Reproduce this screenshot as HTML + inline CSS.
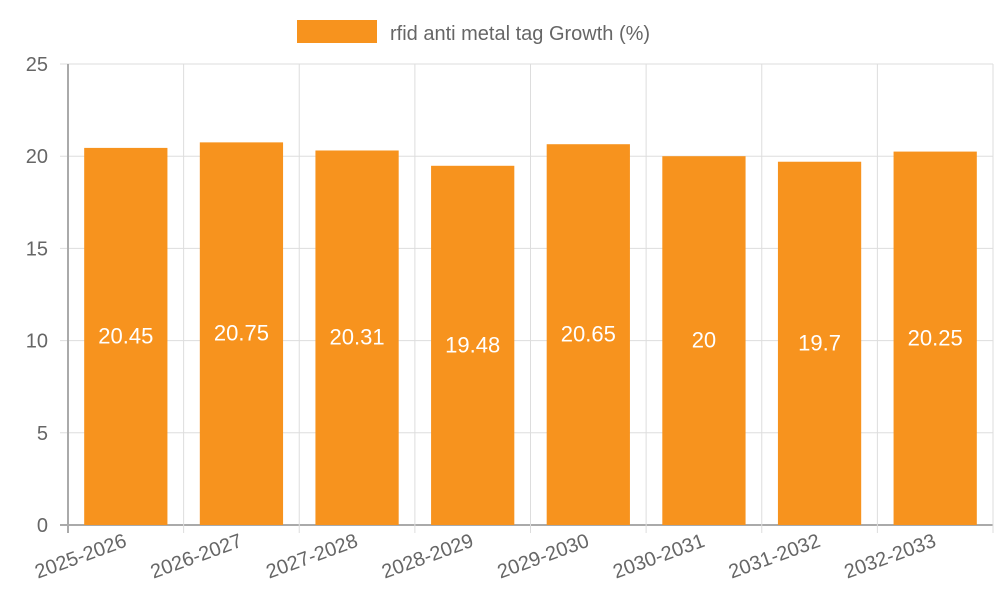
<!DOCTYPE html>
<html><head><meta charset="utf-8"><style>
html,body{margin:0;padding:0;background:#fff;}
svg{display:block;font-family:"Liberation Sans",sans-serif;}
</style></head><body>
<svg id="chart" width="1000" height="600">
<g>
<rect x="297" y="20" width="80" height="23" fill="#F7931E"></rect>
<text x="390" y="40" font-size="20" fill="#666">rfid anti metal tag Growth (%)</text>
</g>
<g id="grid"></g><g id="bars"></g><g id="labels"></g>
</svg>
<script>
const categories = ["2025-2026","2026-2027","2027-2028","2028-2029","2029-2030","2030-2031","2031-2032","2032-2033"];
const values = [20.45,20.75,20.31,19.48,20.65,20,19.7,20.25];
const yTicks = [0,5,10,15,20,25];
const NS="http://www.w3.org/2000/svg";
const L=68,R=993,T=64,B=525,yMax=25;
const band=(R-L)/categories.length;
const y=v=>B-(v/yMax)*(B-T);
const x=i=>L+i*band;
const grid=document.getElementById('grid'),bars=document.getElementById('bars'),labels=document.getElementById('labels');
function mk(tag,attrs,parent){const e=document.createElementNS(NS,tag);for(const k in attrs)e.setAttribute(k,attrs[k]);parent.appendChild(e);return e;}
yTicks.forEach(t=>{
  const ln=mk('line',{x1:60,x2:R,y1:y(t),y2:y(t),stroke:t===0?'#aaa':'#ddd','stroke-width':t===0?2:1},grid);
  
  
  const tx=mk('text',{x:48,y:y(t)+7,'text-anchor':'end','font-size':20,fill:'#666'},grid);
  tx.textContent=t;
  
  
});
for(let i=0;i<=categories.length;i++){
  const ln=mk('line',{x1:x(i),x2:x(i),y1:T,y2:B+8,stroke:i===0?'#aaa':'#ddd','stroke-width':i===0?2:1},grid);
  
  
}
categories.forEach((c,i)=>{
  const bw=band*0.72,cx=x(i)+band/2;
  const r=mk('rect',{x:cx-bw/2,y:y(values[i]),width:bw,height:B-y(values[i]),fill:'#F7931E'},bars);
  
  
  const v=mk('text',{x:cx,y:(y(values[i])+B)/2+7,'text-anchor':'middle','font-size':22,fill:'#fff'},labels);
  v.textContent=values[i];
  
  
  const t=mk('text',{x:cx+2,y:546,'text-anchor':'end','font-size':20,fill:'#666',transform:`rotate(-20 ${cx+2} 546)`},labels);
  t.textContent=c;
  
  
});
</script>
</body></html>
